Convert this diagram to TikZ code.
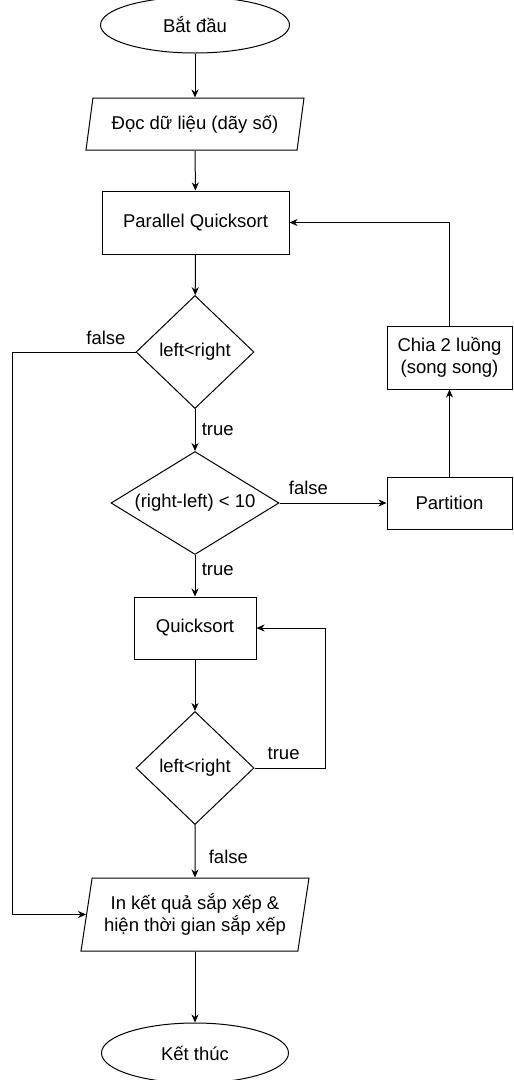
\documentclass[tikz,border=0pt]{standalone}
\usepackage{fontspec}
\setmainfont{Liberation Sans}
\usetikzlibrary{arrows.meta, shapes.geometric}

\begin{document}
\begin{tikzpicture}[x=1pt, y=-1pt, >={Stealth[length=8pt, width=7pt, inset=2.5pt]}, font=\fontsize{18.5}{21.7}\selectfont, line width=1pt]
		\tikzstyle{term} = [draw=black, ellipse, inner sep=0pt]
		\tikzstyle{io} = [draw=black, trapezium, trapezium stretches body, inner sep=0pt, align=center]
		\tikzstyle{proc} = [draw=black, rectangle, inner sep=0pt, align=center]
		\tikzstyle{cond} = [draw=black, diamond, inner sep=0pt]
		\tikzstyle{arrow} = [->]
		
		\useasboundingbox (0, 0) rectangle (514, 1080);
		
		\node[term, minimum width=189pt, minimum height=56pt] 	at (195, 25) 	(st) 	{Bắt đầu};
		\node[io, trapezium left angle=69, trapezium right angle=111, minimum width=218pt, minimum height=52pt] 	at (195, 124) 	(rd) 	{Đọc dữ liệu (dãy số)};
		\node[proc, minimum width=187pt, minimum height=63pt] 	at (195.5, 222.5) 	(pq) 	{Parallel Quicksort};
		\node[cond, aspect=1.04, minimum width=118pt, minimum height=113pt] 	at (195, 352) 	(c1) 	{left<right};
		\node[cond, aspect=1.63, minimum width=168pt, minimum height=103pt] 	at (195, 503) 	(c2) 	{(right-left) < 10};
		\node[proc, minimum width=125pt, minimum height=52pt] 	at (449.5, 503) 	(pt) 	{Partition};
		\node[proc, minimum width=125pt, minimum height=63pt] 	at (449.5, 357.5) 	(sp) 	{Chia 2 luồng\\(song song)};
		\node[proc, minimum width=122pt, minimum height=62pt] 	at (195, 628) 	(qs) 	{Quicksort};
		\node[cond, aspect=1.04, minimum width=118pt, minimum height=113pt] 	at (195, 768) 	(c3) 	{left<right};
		\node[io, trapezium left angle=75, trapezium right angle=105, minimum width=228pt, minimum height=73pt] 	at (195, 914.5) 	(out) 	{In kết quả sắp xếp \&\\hiện thời gian sắp xếp};
		\node[term, minimum width=187pt, minimum height=60pt] 	at (195, 1053) 	(en) 	{Kết thúc};
		
		\path[arrow]
		(st) 	edge 	(rd)
		(rd) 	edge 	(pq)
		(pq) 	edge 	(c1)
		(c1) 	edge 	node[right, pos=0.5, xshift=3pt] 	{true} 	(c2)
		(c2) 	edge 	node[above=4pt, pos=0.27] 	{false} 	(pt)
		(c2) 	edge 	node[right, pos=0.36, xshift=3pt] 	{true} 	(qs)
		(pt) 	edge 	(sp)
		(qs) 	edge 	(c3)
		(c3) 	edge 	node[right, pos=0.6, xshift=10pt] 	{false} 	(out)
		(out) 	edge 	(en);
		
		\draw[arrow] (sp.north) |- (pq.east);
		\draw[arrow] (c3.east) -- node[above=4pt, pos=0.41] {true} ++(71, 0) |- (qs.east);
		\draw[arrow] (c1.west) -- node[above=3pt, pos=0.24] {false} ++(-123, 0) |- (out.west);
	\end{tikzpicture}
\end{document}
